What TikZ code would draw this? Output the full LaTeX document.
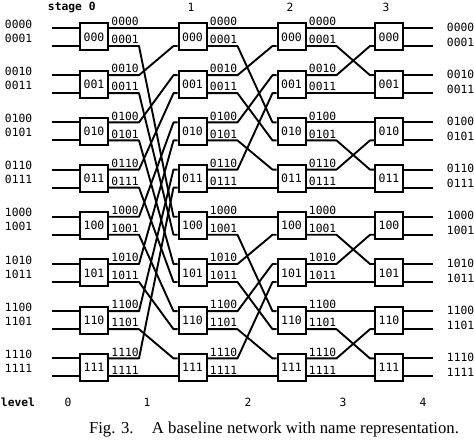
\documentclass[tikz,border=0pt]{standalone}
\usepackage{fontspec}
\setmainfont{Liberation Serif}
\newfontfamily\lab{DejaVu Sans Mono}
\begin{document}
\begin{tikzpicture}[x=1pt,y=-1pt,line width=1.9pt,
  swbox/.style={draw,line width=2pt,minimum width=28pt,minimum height=27pt,inner sep=0pt,font=\lab\fontsize{11.5}{12}\selectfont},
  wlab/.style={font=\lab\fontsize{11.3}{11}\selectfont,inner sep=0pt,anchor=south west},
  sidelab/.style={font=\lab\fontsize{11.3}{11}\selectfont,inner sep=0pt,anchor=west},
  toplab/.style={font=\lab\fontsize{11.3}{11}\selectfont,inner sep=0pt}]
\useasboundingbox (0,0) rectangle (474,446);
% boxes
\foreach \s/\xc in {0/94,1/192.5,2/291.5,3/389}{
  \foreach \i/\b in {0/000,1/001,2/010,3/011,4/100,5/101,6/110,7/111}{
    \pgfmathsetmacro\yc{37+47.2*\i}
    \node[swbox] (b\s-\i) at (\xc,\yc) {\b};
    \coordinate (b\s-\i-i0) at ([yshift=9pt]b\s-\i.west);
    \coordinate (b\s-\i-i1) at ([yshift=-9pt]b\s-\i.west);
    \coordinate (b\s-\i-o0) at ([yshift=9pt]b\s-\i.east);
    \coordinate (b\s-\i-o1) at ([yshift=-9pt]b\s-\i.east);
  }
}
% inputs, outputs, side labels
\foreach \i/\u/\l in {0/0000/0001,1/0010/0011,2/0100/0101,3/0110/0111,4/1000/1001,5/1010/1011,6/1100/1101,7/1110/1111}{
  \pgfmathsetmacro\yc{37+47.2*\i}
  \coordinate (L\i-0) at (52,\yc-9);
  \coordinate (L\i-1) at (52,\yc+9);
  \coordinate (R\i-0) at (433,\yc-9);
  \coordinate (R\i-1) at (433,\yc+9);
  \draw (L\i-0) -- (b0-\i-i0);
  \draw (L\i-1) -- (b0-\i-i1);
  \draw (b3-\i-o0) -- (R\i-0);
  \draw (b3-\i-o1) -- (R\i-1);
  \node[sidelab] (ll\i a) at (4,\yc-13) {\u};
  \node[sidelab] (ll\i b) at (4,\yc+1) {\l};
  \node[sidelab] (rl\i a) at (446,\yc-10) {\u};
  \node[sidelab] (rl\i b) at (446,\yc+5) {\l};
  \foreach \s in {0,1,2}{
    \node[wlab] (w\s-\i a) at ([xshift=1.5pt,yshift=1.2pt]b\s-\i-o0) {\u};
    \node[wlab] (w\s-\i b) at ([xshift=1.5pt,yshift=1.2pt]b\s-\i-o1) {\l};
  }
}
% interstage wiring (baseline)
\foreach \s in {0,1,2}{
  \pgfmathtruncatemacro\m{8/(2^\s)}
  \pgfmathtruncatemacro\ns{\s+1}
  \foreach \i in {0,...,7}{
    \foreach \p in {0,1}{
      \pgfmathtruncatemacro\t{\m*floor(\i/\m)+\p*\m/2+floor(mod(\i,\m)/2)}
      \pgfmathtruncatemacro\q{mod(\i,2)}
      \draw[line join=round] (b\s-\i-o\p) -- ++(30,0) -- ([xshift=-4pt]b\ns-\t-i\q) -- (b\ns-\t-i\q);
    }
  }
}
% stage and level labels
\node[toplab,anchor=west] (stg) at (47,7) {\bfseries stage 0};
\node[toplab] (st1) at (191,7) {1};
\node[toplab] (st2) at (290,7) {2};
\node[toplab] (st3) at (386,7) {3};
\node[toplab,anchor=west] (lvl) at (0,402) {\bfseries level};
\node[toplab] (lv0) at (68,402) {0};
\node[toplab] (lv1) at (147,402) {1};
\node[toplab] (lv2) at (248,402) {2};
\node[toplab] (lv3) at (343,402) {3};
\node[toplab] (lv4) at (423,402) {4};
% caption
\node[inner sep=0pt,font=\fontsize{16.7}{18}\selectfont] (cap) at (274,430) {Fig. 3.\hspace{1.1em}A baseline network with name representation.};
\end{tikzpicture}
\end{document}
